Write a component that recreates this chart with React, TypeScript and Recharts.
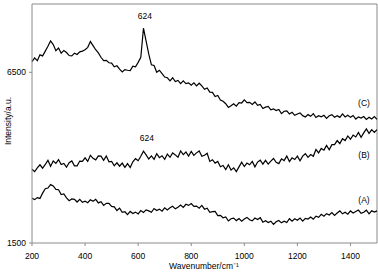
import { LineChart, Line, XAxis, YAxis, ReferenceLine, ReferenceDot } from "recharts";

// Raman shift grid, 200..1500 cm-1 every 10
const wavenumbers = Array.from({ length: 131 }, (_, i) => 200 + 10 * i);

const specC = [
  6810, 6920, 6840, 7010, 6980, 7120, 7260, 7420, 7310, 7130,
  7210, 7060, 7140, 7080, 6990, 6980, 7060, 7020, 7100, 7120,
  7160, 7230, 7400, 7280, 7160, 7070, 6940, 6840, 6850, 6780,
  6770, 6660, 6690, 6590, 6510, 6580, 6560, 6550, 6680, 6660,
  6790, 6940, 7790, 7410, 7030, 6720, 6700, 6500, 6560, 6460,
  6360, 6340, 6250, 6340, 6230, 6260, 6170, 6250, 6170, 6190,
  6120, 6190, 6100, 6180, 6100, 6000, 6040, 5920, 5910, 5790,
  5820, 5690, 5650, 5580, 5470, 5520, 5580, 5510, 5610, 5600,
  5690, 5610, 5620, 5560, 5630, 5530, 5560, 5440, 5480, 5500,
  5400, 5430, 5380, 5410, 5290, 5360, 5370, 5280, 5330, 5240,
  5280, 5310, 5230, 5190, 5260, 5210, 5290, 5175, 5230, 5195,
  5240, 5150, 5225, 5260, 5185, 5230, 5180, 5280, 5190, 5240,
  5180, 5235, 5130, 5195, 5160, 5205, 5120, 5185, 5130, 5200,
  5120,
];

const specB = [
  3660, 3590, 3700, 3790, 3690, 3800, 3920, 3745, 3900, 3830,
  3940, 3800, 3830, 3720, 3850, 3905, 3760, 3760, 3900, 3890,
  3995, 3890, 4070, 3980, 3935, 4050, 4045, 3920, 4050, 3880,
  3890, 3760, 3850, 3750, 3840, 3715, 3825, 3710, 3880, 3970,
  3910, 4040, 4190, 4080, 3960, 4050, 3950, 4115, 4000, 4055,
  3950, 4105, 4010, 4140, 4080, 4010, 4195, 4090, 4165, 4047,
  4180, 4065, 4140, 4195, 4040, 4070, 4130, 3890, 3940, 3840,
  3890, 3735, 3770, 3650, 3790, 3635, 3700, 3590, 3730, 3865,
  3740, 3840, 3790, 3890, 3730, 3870, 3925, 3810, 3920, 3810,
  3898, 3975, 3865, 3825, 3965, 3915, 4045, 3885, 3995, 3945,
  4045, 3905, 4045, 4115, 4010, 4090, 4040, 4240, 4140, 4270,
  4220, 4360, 4230, 4380, 4380, 4500, 4410, 4555, 4500, 4635,
  4540, 4660, 4605, 4735, 4595, 4725, 4840, 4710, 4820, 4740,
  4820,
];

const specA = [
  2810, 2770, 2830, 2806, 2960, 3090, 3110, 3210, 3170, 3070,
  3060, 2920, 2940, 2820, 2740, 2790, 2780, 2700, 2780, 2690,
  2725, 2680, 2765, 2720, 2780, 2675, 2710, 2600, 2660, 2660,
  2570, 2560, 2450, 2520, 2400, 2415, 2330, 2425, 2365, 2405,
  2350, 2450, 2395, 2470, 2440, 2400, 2510, 2452, 2492, 2432,
  2532, 2470, 2532, 2575, 2500, 2545, 2610, 2540, 2635, 2602,
  2655, 2570, 2580, 2520, 2600, 2490, 2520, 2400, 2420, 2425,
  2305, 2310, 2240, 2265, 2145, 2210, 2230, 2156, 2214, 2140,
  2200, 2250, 2183, 2150, 2230, 2185, 2240, 2110, 2150, 2100,
  2140, 2045, 2120, 2160, 2090, 2140, 2100, 2210, 2140, 2210,
  2165, 2230, 2140, 2220, 2202, 2263, 2200, 2285, 2250, 2340,
  2285, 2360, 2320, 2390, 2310, 2380, 2440, 2355, 2400, 2345,
  2440, 2380, 2425, 2465, 2370, 2400, 2460, 2355, 2445, 2405,
  2440,
];

const xTicks = [200, 400, 600, 800, 1000, 1200, 1400];
const yTicks = [1500, 6500];

const data = wavenumbers.map((w, i) => ({ w, A: specA[i], B: specB[i], C: specC[i] }));

const font = "'Liberation Sans', Arial, sans-serif";
const grey = "#8a8a8a";
const tickStyle = { fill: "#000", fontSize: 8.5, fontFamily: font };
const noteStyle = { fill: "#000", fontSize: 8.5, fontFamily: font };

export default function App() {
  return (
    <div style={{ position: "absolute", left: 0, top: 0 }}>
      <LineChart width={378} height={273} data={data} margin={{ top: 4, right: 1, left: 0, bottom: 0 }}>
        <XAxis
          dataKey="w" type="number" domain={[200, 1500]} ticks={xTicks}
          height={30} tickSize={3} tickMargin={7}
          stroke={grey} tick={tickStyle} tickLine={{ stroke: grey }}
          label={{
            content: () => (
              <text x={204} y={269} textAnchor="middle" fontSize={8.5} fontFamily={font} fill="#000">
                Wavenumber/cm⁻¹
              </text>
            ),
          }}
        />
        <YAxis
          type="number" domain={[1500, 8500]} ticks={yTicks}
          width={32} tickSize={3} tickMargin={3}
          stroke={grey} tick={tickStyle} tickLine={{ stroke: grey }}
          label={{
            content: () => (
              <text x={11} y={121} transform="rotate(-90 11 121)" textAnchor="middle" fontSize={8.5} fontFamily={font} fill="#000">
                Intensity/a.u.
              </text>
            ),
          }}
        />
        <ReferenceLine y={8500} stroke={grey} />
        <ReferenceLine x={1500} stroke={grey} />
        <Line dataKey="A" stroke="#000" strokeWidth={1.2} dot={false} isAnimationActive={false} />
        <Line dataKey="B" stroke="#000" strokeWidth={1.2} dot={false} isAnimationActive={false} />
        <Line dataKey="C" stroke="#000" strokeWidth={1.2} dot={false} isAnimationActive={false} />
        <ReferenceDot x={625} y={8160} r={1} fill="none" stroke="none" label={{ value: "624", position: "center", style: noteStyle }} />
        <ReferenceDot x={633} y={4575} r={1} fill="none" stroke="none" label={{ value: "624", position: "center", style: noteStyle }} />
        <ReferenceDot x={1451} y={5600} r={1} fill="none" stroke="none" label={{ value: "(C)", position: "center", style: noteStyle }} />
        <ReferenceDot x={1451} y={4078} r={1} fill="none" stroke="none" label={{ value: "(B)", position: "center", style: noteStyle }} />
        <ReferenceDot x={1451} y={2759} r={1} fill="none" stroke="none" label={{ value: "(A)", position: "center", style: noteStyle }} />
      </LineChart>
    </div>
  );
}
